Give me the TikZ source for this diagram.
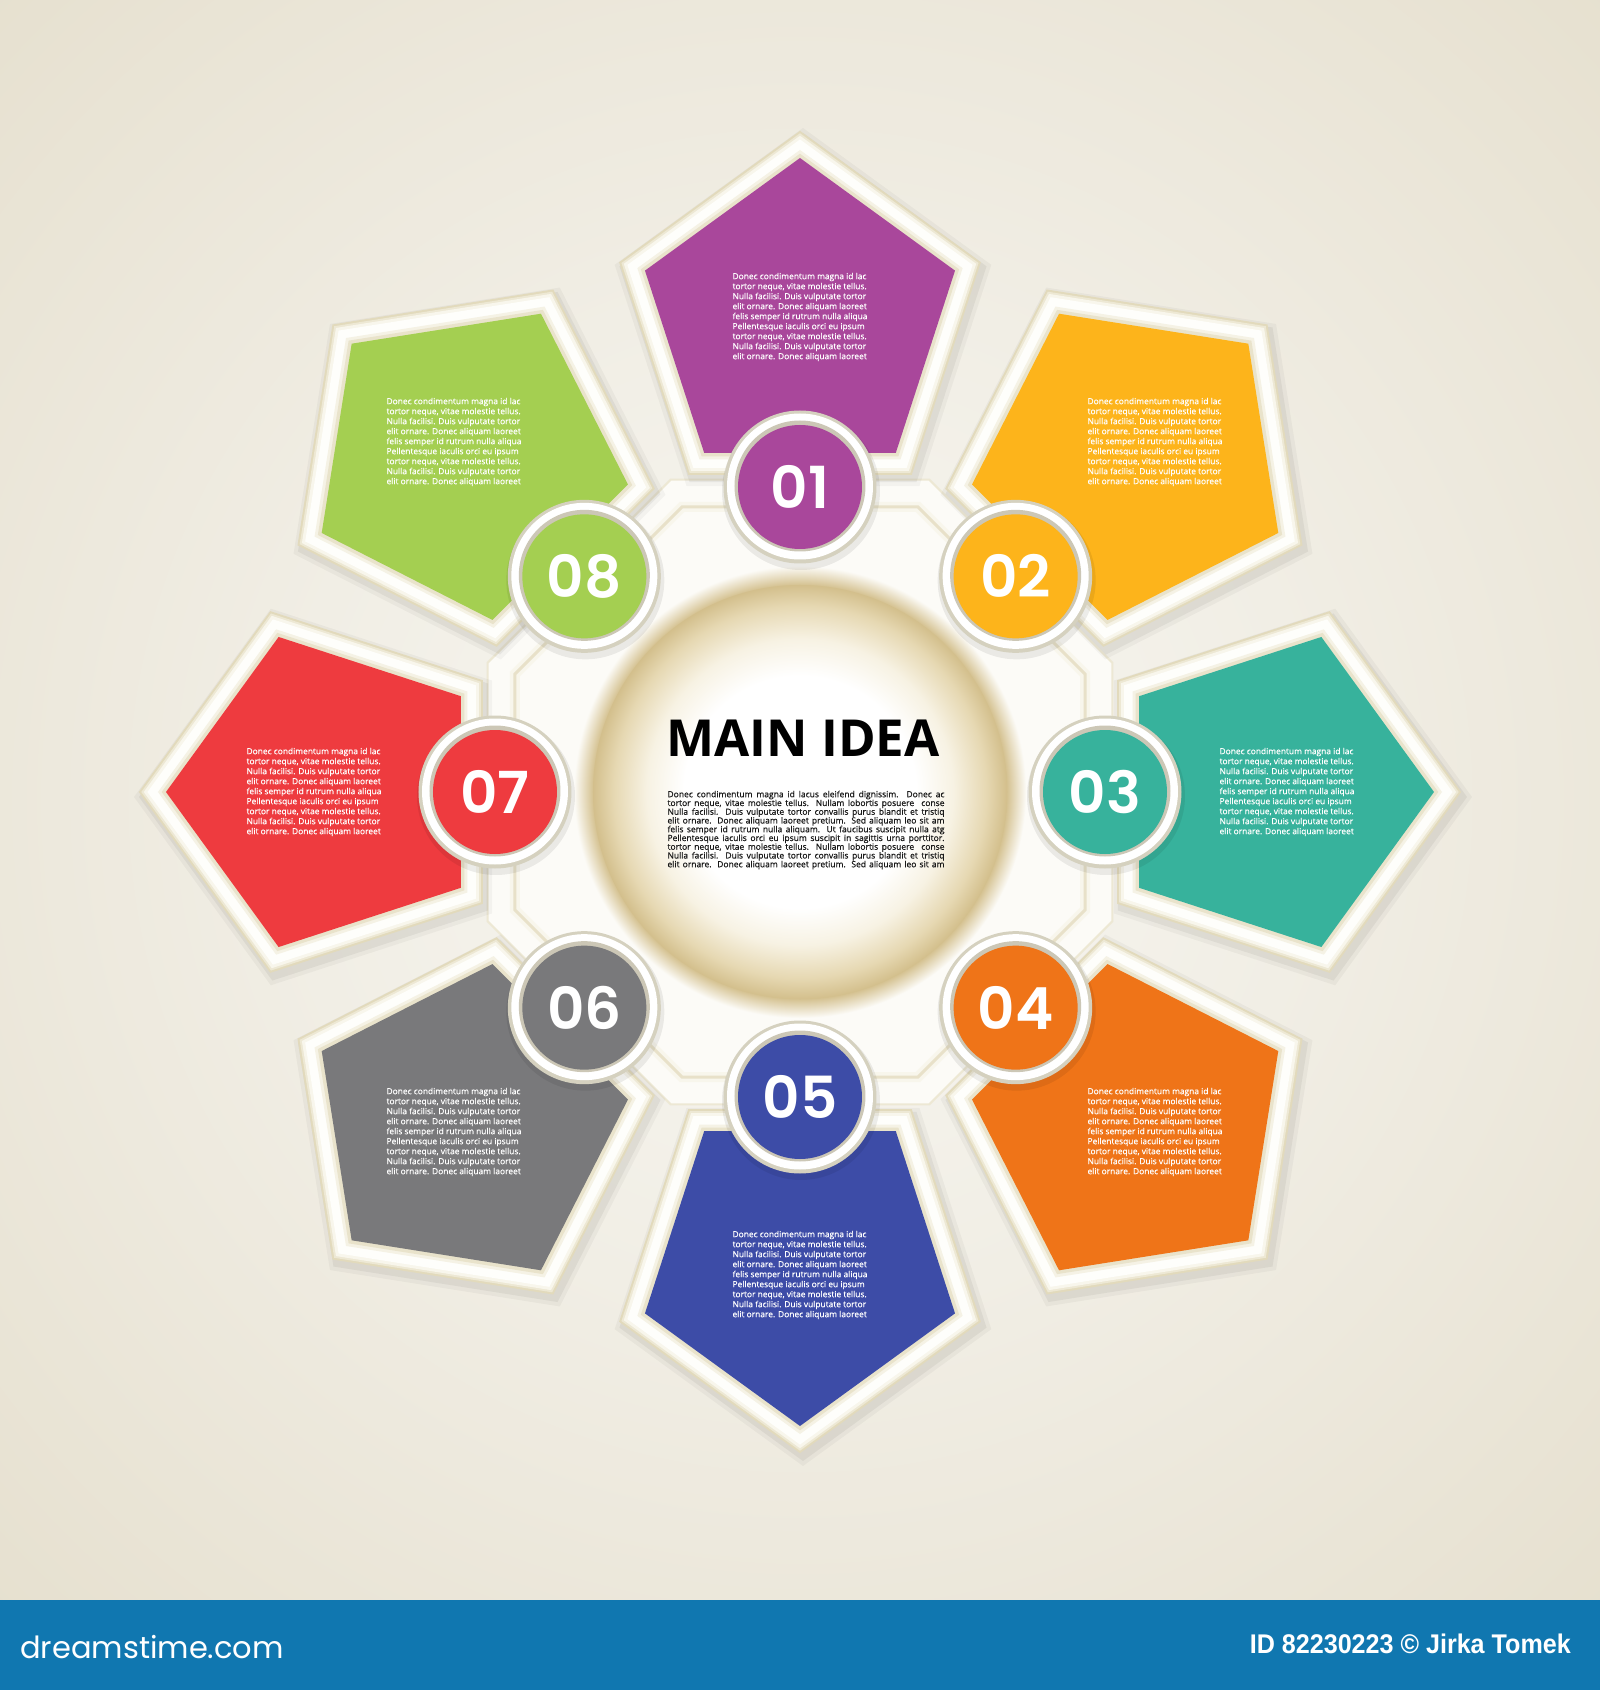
\documentclass[tikz,border=0pt]{standalone}
\usepackage{fontspec}
\usepackage{graphicx}
\setmainfont{Open Sans}
\newfontfamily\numfont{Poppins SemiBold}
\newfontfamily\logofont{Poppins}
\newfontfamily\semifont[FakeBold=0.6]{Open Sans}
\newfontfamily\barfont{Liberation Sans}

\definecolor{c1}{HTML}{A9479B}
\definecolor{c2}{HTML}{FDB41B}
\definecolor{c3}{HTML}{37B29C}
\definecolor{c4}{HTML}{EF7418}
\definecolor{c5}{HTML}{3D4CA7}
\definecolor{c6}{HTML}{79797B}
\definecolor{c7}{HTML}{EE3B3F}
\definecolor{c8}{HTML}{A4CF51}
\definecolor{bgin}{HTML}{F8F7F2}
\definecolor{bgmid}{HTML}{F1EEE5}
\definecolor{bgout}{HTML}{E6E0CF}
\definecolor{barblue}{HTML}{1077B0}
\definecolor{plate}{HTML}{FCFBF7}
\definecolor{edgeA}{HTML}{E2DABC}
\definecolor{edgeB}{HTML}{EDE8D4}
\definecolor{edgeC}{HTML}{F8F6EC}
\definecolor{edgeD}{HTML}{FEFEFB}
\definecolor{edgeE}{HTML}{F5F2E5}
\definecolor{edgeF}{HTML}{E9E3CB}
\definecolor{gold}{HTML}{D3BF8C}
\definecolor{goldmid}{HTML}{E6D8B2}
\definecolor{goldlite}{HTML}{F7F2E3}

\pgfdeclareradialshading{bgshade}{\pgfpoint{0bp}{0bp}}{color(0bp)=(bgin); color(16bp)=(bgmid); color(36bp)=(bgout); color(50bp)=(bgout)}
\pgfdeclareradialshading{mainshade}{\pgfpoint{0bp}{0bp}}{color(0bp)=(white); color(14bp)=(white); color(18.5bp)=(goldlite); color(22.5bp)=(goldmid); color(25bp)=(gold); color(50bp)=(gold)}
\pgfdeclareradialshading{glowshade}{\pgfpoint{0bp}{0bp}}{color(0bp)=(gold); color(22.8bp)=(gold); color(25bp)=(plate); color(50bp)=(plate)}

\tikzset{
  pentpath/.style={insert path={(0:#1) -- (72:#1) -- (144:#1) -- (216:#1) -- (288:#1) -- cycle}},
  octpath/.style={insert path={(22.5:#1) -- (67.5:#1) -- (112.5:#1) -- (157.5:#1) -- (202.5:#1) -- (247.5:#1) -- (292.5:#1) -- (337.5:#1) -- cycle}},
  ptext/.style={text=white, align=left, inner sep=0pt, font=\semifont\fontsize{8.4}{10}\selectfont},
  numtext/.style={text=white, inner sep=0pt, font=\numfont\fontsize{58}{58}\selectfont},
}

\newcommand{\pentbody}{Donec condimentum magna id lac\\
tortor neque, vitae molestie tellus.\\
Nulla facilisi. Duis vulputate tortor\\
elit ornare. Donec aliquam laoreet\\
felis semper id rutrum nulla aliqua\\
Pellentesque iaculis orci eu ipsum\\
tortor neque, vitae molestie tellus.\\
Nulla facilisi. Duis vulputate tortor\\
elit ornare. Donec aliquam laoreet}

\newcommand{\cl}[1]{\makebox[277pt][s]{#1}}

\begin{document}
\begin{tikzpicture}[x=1pt,y=1pt]
\useasboundingbox (-800,-898) rectangle (800,792);
% background
\shade[shading=bgshade] (-800,-808) rectangle (800,792);
\fill[barblue] (-800,-898) rectangle (800,-808);

% plate
\fill[plate, draw=edgeB, line width=2, octpath=338];

% pentagons
\foreach \k/\col in {1/c1,2/c2,3/c3,4/c4,5/c5,6/c6,7/c7,8/c8} {
  \pgfmathsetmacro\ang{90-45*(\k-1)}
  \begin{scope}[shift={(\ang:471)}]
    \begin{scope}[shift={(3,-5)}, rotate=\ang]
      \fill[black, opacity=0.035, pentpath=198];
      \fill[black, opacity=0.05, pentpath=193];
    \end{scope}
    \begin{scope}[rotate=\ang]
      \draw[draw=edgeA, line width=44, line join=miter, pentpath=163];
      \draw[draw=edgeB, line width=40, line join=miter, pentpath=163];
      \draw[draw=edgeC, line width=36, line join=miter, pentpath=163];
      \draw[draw=edgeD, line width=30, line join=miter, pentpath=163];
      \draw[draw=edgeE, line width=13, line join=miter, pentpath=163];
      \draw[draw=edgeF, line width=7, line join=miter, pentpath=163];
      \fill[\col, pentpath=163];
    \end{scope}
  \end{scope}
}

% pentagon texts
\node[ptext] (t1) at (0,475) {\pentbody};
\node[ptext] (t2) at (355,350) {\pentbody};
\node[ptext] (t3) at (487,0) {\pentbody};
\node[ptext] (t4) at (355,-340) {\pentbody};
\node[ptext] (t5) at (0,-483) {\pentbody};
\node[ptext] (t6) at (-346,-340) {\pentbody};
\node[ptext] (t7) at (-486,0) {\pentbody};
\node[ptext] (t8) at (-346,350) {\pentbody};

% inner octagon ridge
\draw[draw=edgeC, line width=10, line join=miter, octpath=308.5];
\draw[draw=edgeA!80!white, line width=3, line join=miter, octpath=308.5];

% main circle
\shade[shading=glowshade] (0,0) circle (226);
\shade[shading=mainshade] (0,0) circle (207);

% numbered circles
\foreach \k/\col/\n in {1/c1/01,2/c2/02,3/c3/03,4/c4/04,5/c5/05,6/c6/06,7/c7/07,8/c8/08} {
  \pgfmathsetmacro\ang{90-45*(\k-1)}
  \begin{scope}[shift={(\ang:305)}]
    \fill[black, opacity=0.07] (1,-4) circle (79);
    \fill[black!10!edgeB] (0,0) circle (76.5);
    \fill[white] (0,0.5) circle (73);
    \fill[black!14!edgeB] (0,1) circle (65.5);
    \fill[\col] (0,0) circle (62);
  \end{scope}
  \node[numtext] (n\k) at (\ang:305) {\n};
}

% main texts
\node[font=\bfseries\fontsize{51}{51}\selectfont, inner sep=0pt, text=black] (title) at (3,54) {MAIN IDEA};
\node[font=\semifont\fontsize{8.5}{8.75}\selectfont, align=left, inner sep=0pt, text=black!90] (body) at (6,-38) {%
\cl{Donec condimentum magna id lacus eleifend dignissim. Donec ac}\\
\cl{tortor neque, vitae molestie tellus. Nullam lobortis posuere \ conse}\\
\cl{Nulla facilisi. Duis vulputate tortor convallis purus blandit et tristiq}\\
\cl{elit ornare. Donec aliquam laoreet pretium. Sed aliquam leo sit am}\\
\cl{felis semper id rutrum nulla aliquam. Ut faucibus suscipit nulla atg}\\
\cl{Pellentesque iaculis orci eu ipsum suscipit in sagittis urna porttitor.}\\
\cl{tortor neque, vitae molestie tellus. Nullam lobortis posuere \ conse}\\
\cl{Nulla facilisi. Duis vulputate tortor convallis purus blandit et tristiq}\\
\cl{elit ornare. Donec aliquam laoreet pretium. Sed aliquam leo sit am}};

% bottom bar texts
\node[anchor=west, text=white, inner sep=0pt, font=\logofont\fontsize{30.5}{30.5}\selectfont] (logo) at (-780,-855) {dreamstime.com};
\node[anchor=east, text=white, inner sep=0pt, font=\barfont\bfseries\fontsize{27}{27}\selectfont] (credit) at (771,-852) {\scalebox{0.93}[1]{ID 82230223 © Jirka Tomek}};
\end{tikzpicture}
\end{document}
